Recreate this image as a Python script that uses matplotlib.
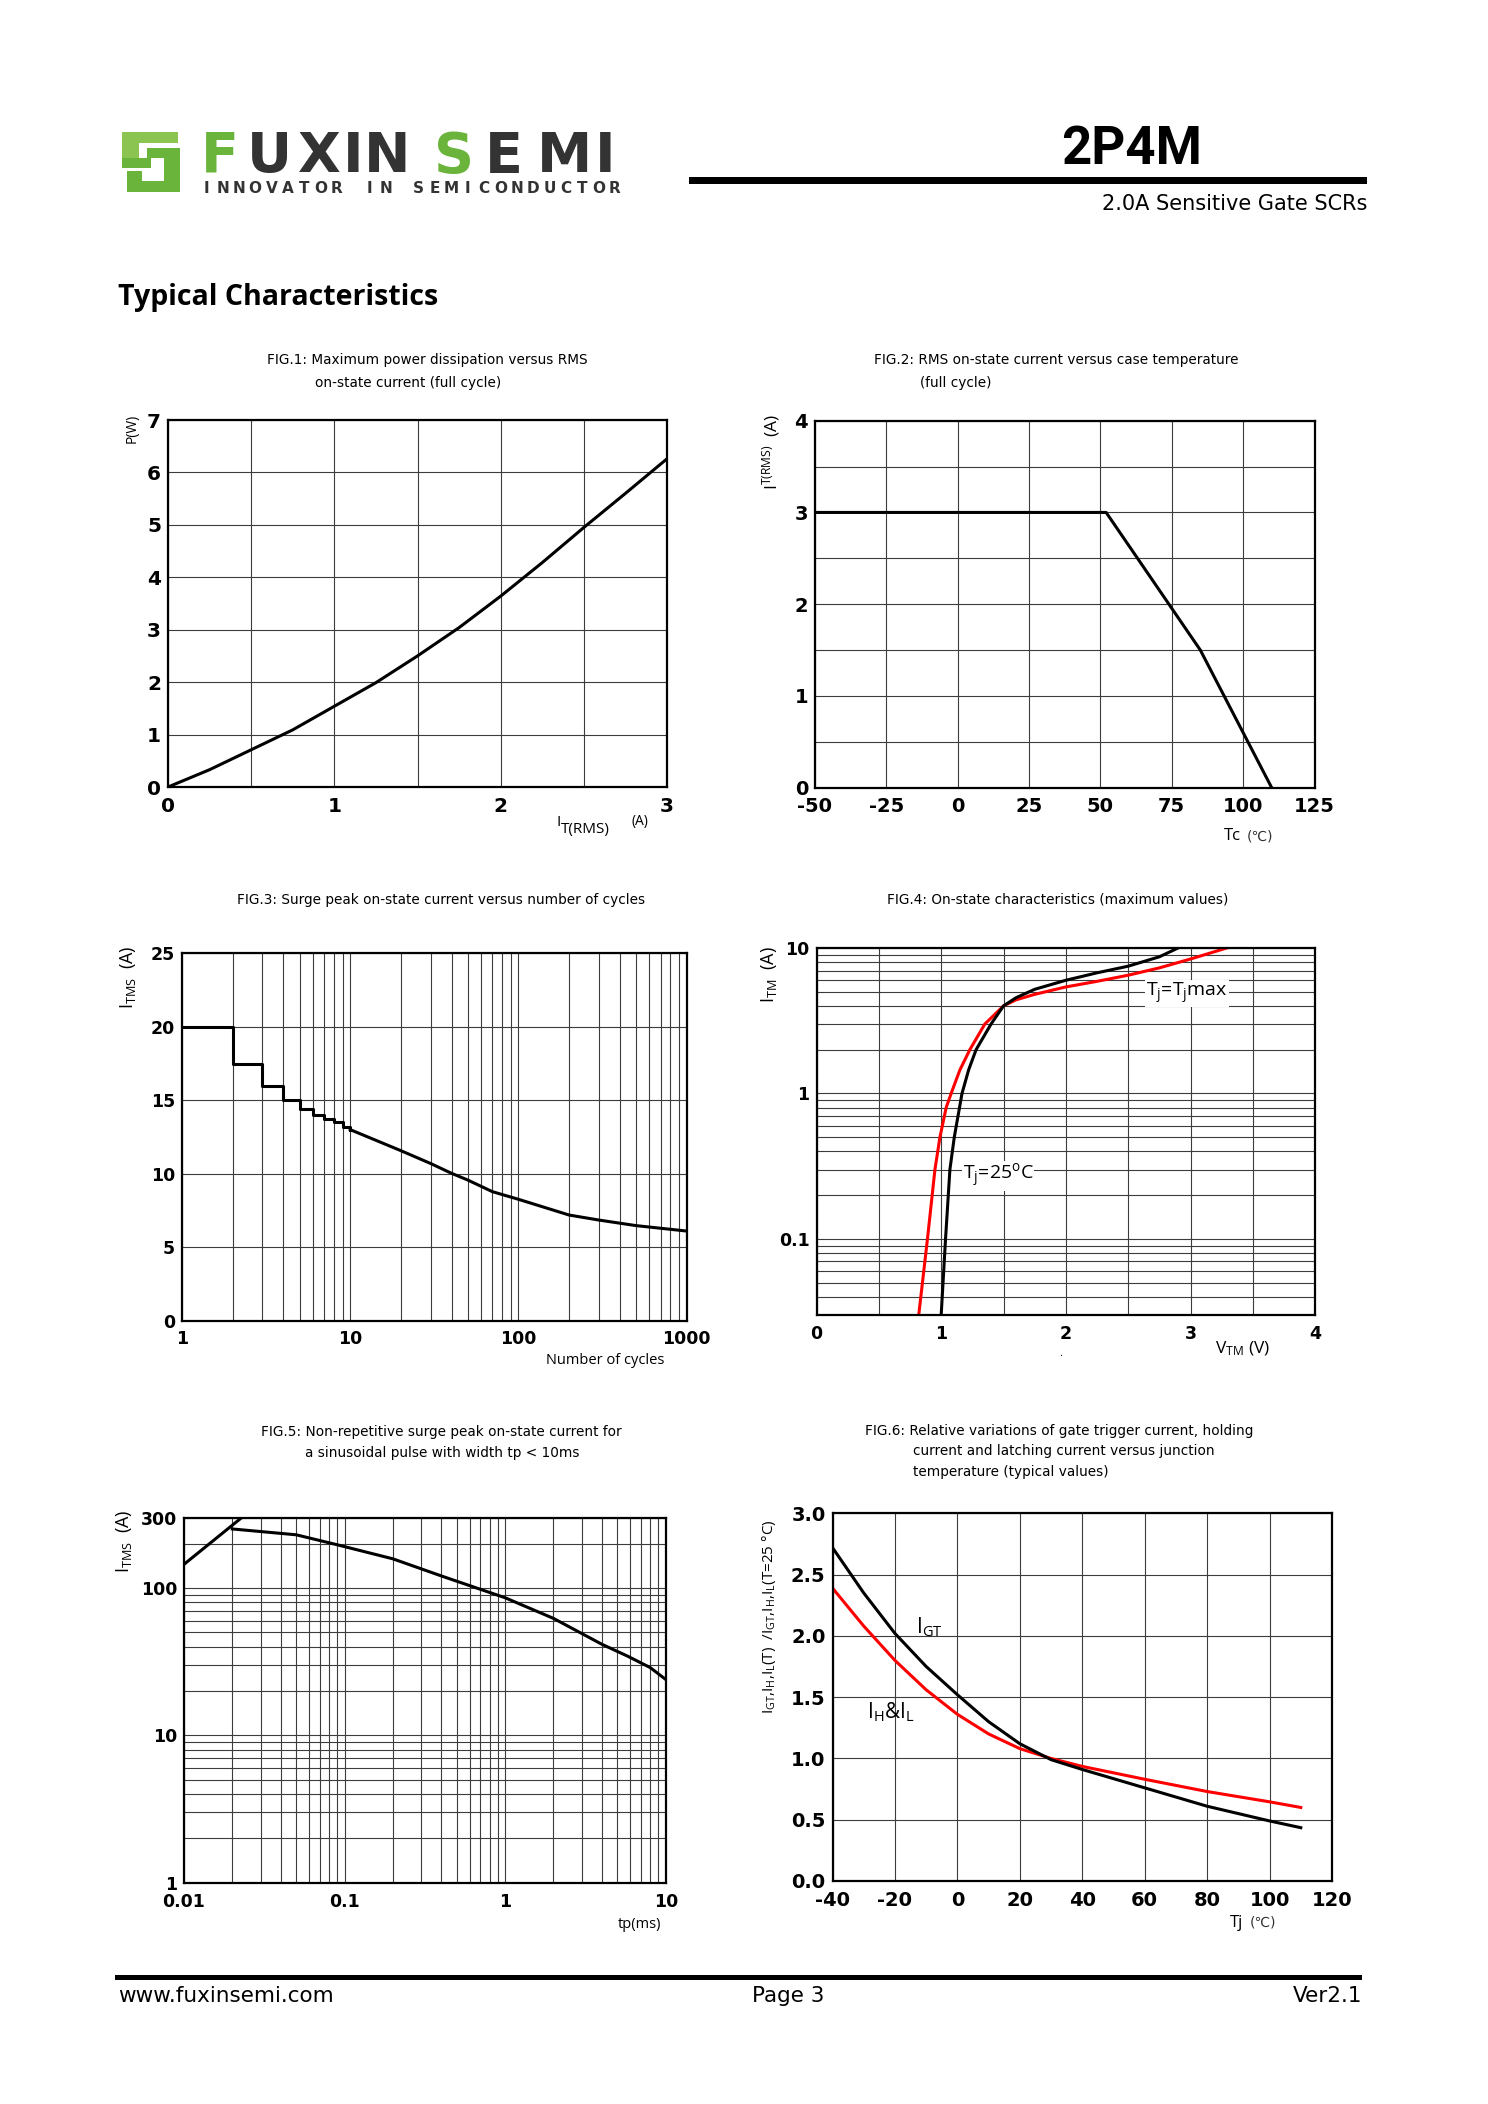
import numpy as np
import matplotlib
matplotlib.use('Agg')
import matplotlib.pyplot as plt
from matplotlib import font_manager as fm
from matplotlib.patches import Rectangle
from matplotlib.ticker import LogLocator, NullFormatter, FixedLocator

# ---------------- data ----------------
# FIG.1  P(W) vs I_T(RMS)
fig1_i = [0, 0.25, 0.5, 0.75, 1.0, 1.25, 1.5, 1.75, 2.0, 2.25, 2.5, 2.75, 3.0]
fig1_p = [0, 0.33, 0.71, 1.09, 1.54, 1.99, 2.50, 3.04, 3.64, 4.28, 4.95, 5.60, 6.26]
fig1_xticks = [0, 1, 2, 3]
fig1_yticks = [0, 1, 2, 3, 4, 5, 6, 7]

# FIG.2  I_T(RMS) vs Tc
fig2_tc = [-50, 52, 85, 110]
fig2_i = [3.0, 3.0, 1.5, 0.0]
fig2_xticks = [-50, -25, 0, 25, 50, 75, 100, 125]
fig2_yticks = [0, 1, 2, 3, 4]

# FIG.3  surge current vs number of cycles
fig3_step_n = [1, 2, 3, 4, 5, 6, 7, 8, 9, 10]
fig3_step_i = [20, 17.5, 16, 15, 14.4, 14.0, 13.7, 13.5, 13.2, 13.0]
fig3_n = [10, 20, 30, 40, 50, 70, 100, 200, 300, 500, 1000]
fig3_i = [13.0, 11.57, 10.7, 10.03, 9.57, 8.78, 8.26, 7.19, 6.85, 6.47, 6.1]
fig3_xticks = [1, 10, 100, 1000]
fig3_yticks = [0, 5, 10, 15, 20, 25]

# FIG.4  on-state characteristics
fig4_v25 = [1.0, 1.035, 1.07, 1.105, 1.167, 1.22, 1.28, 1.40, 1.50, 1.60, 1.75, 2.0, 2.25,
            2.5, 2.75, 2.9]
fig4_i25 = [0.03, 0.1, 0.3, 0.5, 1.0, 1.45, 2.0, 3.0, 4.0, 4.55, 5.2, 6.0, 6.75,
            7.5, 8.7, 10.0]
fig4_vmax = [0.82, 0.89, 0.95, 0.99, 1.04, 1.08, 1.15, 1.23, 1.35, 1.50, 1.60, 1.75, 2.0,
             2.25, 2.5, 2.75, 3.0, 3.29]
fig4_imax = [0.03, 0.1, 0.3, 0.5, 0.8, 1.0, 1.45, 2.0, 3.0, 4.0, 4.4, 4.8, 5.4,
             5.9, 6.5, 7.3, 8.4, 10.0]
fig4_xticks = [0, 1, 2, 3, 4]
fig4_yticks = [0.1, 1, 10]

# FIG.5  non-repetitive surge vs tp
fig5_tp_a = [0.01, 0.0228]
fig5_i_a = [145, 300]
fig5_tp_b = [0.02, 0.05, 0.088, 0.2, 0.4, 1.0, 2.0, 4.0, 5.8, 8.0, 10.0]
fig5_i_b = [252, 230, 198, 158, 121, 86, 62.3, 41.6, 34.5, 28.9, 24.0]
fig5_xticks = [0.01, 0.1, 1, 10]
fig5_yticks = [1, 10, 100, 300]

# FIG.6  relative variations vs Tj
fig6_t = [-40, -30, -20, -10, 0, 10, 20, 30, 40, 60, 80, 100, 110]
fig6_igt = [2.72, 2.35, 2.02, 1.75, 1.52, 1.30, 1.12, 0.99, 0.91, 0.76, 0.61, 0.49, 0.435]
fig6_ihl = [2.39, 2.08, 1.80, 1.56, 1.36, 1.20, 1.08, 1.00, 0.935, 0.83, 0.73, 0.646, 0.60]
fig6_xticks = [-40, -20, 0, 20, 40, 60, 80, 100, 120]
fig6_yticks = [0.0, 0.5, 1.0, 1.5, 2.0, 2.5, 3.0]

# ---------------- fonts ----------------
names = {f.name for f in fm.fontManager.ttflist}


def _w(f):
    w = f.weight
    if isinstance(w, str):
        w = fm.weight_dict.get(w, 400)
    return w


def has_bold(name):
    return any(f.name == name and _w(f) >= 600 for f in fm.fontManager.ttflist)


def pick(cands, need_bold=False):
    for c in cands:
        if c in names and (not need_bold or has_bold(c)):
            return c
    return 'DejaVu Sans'


SANS = pick(['Open Sans', 'Noto Sans', 'Lato', 'DejaVu Sans'])
SANSB = pick(['Open Sans', 'Noto Sans', 'Lato', 'DejaVu Sans'], need_bold=True)
BIGB = pick(['Liberation Sans Narrow', 'Roboto'], need_bold=True)

plt.rcParams['font.family'] = [SANS, 'DejaVu Sans']
plt.rcParams['mathtext.default'] = 'regular'

W, H = 1488, 2104
fig = plt.figure(figsize=(W / 100, H / 100), dpi=100)
fig.patch.set_facecolor('white')

GRID = '#3c3c3c'
GREEN = '#6AB43C'
GREEN_L = '#8CC451'
DARK = '#333333'
DV = ['DejaVu Sans']


def ax_at(x0, x1, y0, y1):
    return fig.add_axes([x0 / W, 1 - y1 / H, (x1 - x0) / W, (y1 - y0) / H])


def ftext(x, y, s, **kw):
    return fig.text(x / W, 1 - y / H, s, **kw)


def frect(x0, y0, x1, y1, color):
    fig.add_artist(Rectangle((x0 / W, 1 - y1 / H), (x1 - x0) / W, (y1 - y0) / H,
                             transform=fig.transFigure, facecolor=color,
                             edgecolor='none'))


def style(ax):
    for sp in ax.spines.values():
        sp.set_linewidth(1.6)
        sp.set_color('black')
    ax.tick_params(which='both', length=0)
    ax.tick_params(axis='x', which='both', pad=7)
    ax.tick_params(axis='y', which='both', pad=5)
    ax.set_axisbelow(True)


def fmt_num(v):
    if v == int(v):
        return str(int(v))
    return str(v)


TB = dict(fontweight='bold', family=DV)
TITLE = dict(fontsize=9.8, family=DV, ha='center', va='center')

# ---------------- header ----------------
for (x0, y0, x1, y1, c) in [(122, 132, 178, 143, GREEN_L), (122, 132, 139, 168, GREEN_L),
                            (122, 158, 151, 168, GREEN), (147, 148, 180, 158, GREEN),
                            (164, 148, 180, 192, GREEN), (127, 181, 180, 192, GREEN),
                            (127, 171, 142, 192, GREEN)]:
    frect(x0, y0, x1, y1, c)
logo_letters = ['F', 'U', 'X', 'I', 'N', 'S', 'E', 'M', 'I']
logo_centers = [220, 269, 319, 353, 387, 454, 504, 564, 605]
logo_colors = [GREEN, DARK, DARK, DARK, DARK, GREEN, DARK, DARK, DARK]
for ch, cx, col in zip(logo_letters, logo_centers, logo_colors):
    ftext(cx, 172, ch, fontsize=40, fontweight='bold', family=DV,
          color=col, ha='center', va='baseline')
tag = 'INNOVATOR IN SEMICONDUCTOR'
for k, ch in enumerate(tag):
    ftext(198 + (k + 0.5) * 425 / len(tag), 193, ch, fontsize=11, fontweight='bold',
          family=DV, color=DARK, ha='center', va='baseline')

big_size = 44 if BIGB == 'Liberation Sans Narrow' else (38 if BIGB == 'Roboto' else 34)
ftext(1132, 164, '2P4M', fontsize=big_size, fontweight='bold', family=[BIGB],
      ha='center', va='baseline')
frect(689, 177, 1367, 184, 'black')
ftext(1367, 204, '2.0A Sensitive Gate SCRs', fontsize=15, family=DV, ha='right', va='center')
ftext(118, 297, 'Typical Characteristics', fontsize=20.5, ha='left', va='center',
      fontweight='bold', family=[SANSB, 'DejaVu Sans'])

# ---------------- FIG.1 ----------------
ax1 = ax_at(168, 667, 420, 787)
style(ax1)
ax1.plot(fig1_i, fig1_p, color='black', lw=2.2, solid_capstyle='butt')
ax1.set_xlim(0, 3)
ax1.set_ylim(0, 7)
ax1.set_xticks(fig1_xticks, [fmt_num(v) for v in fig1_xticks], fontsize=14.5, **TB)
ax1.set_yticks(fig1_yticks, [fmt_num(v) for v in fig1_yticks], fontsize=14.5, **TB)
ax1.xaxis.set_minor_locator(FixedLocator([0.5, 1.5, 2.5]))
ax1.grid(True, which='both', color=GRID, lw=0.8)
ftext(427, 360, 'FIG.1: Maximum power dissipation versus RMS', **TITLE)
ftext(408, 383, 'on-state current (full cycle)', **TITLE)
ftext(132, 428, 'P(W)', fontsize=10, rotation=90, ha='center', va='center')
ftext(556, 822, 'I', fontsize=11, ha='left', va='center')
ftext(561, 830, 'T(RMS)', fontsize=11, ha='left', va='center')
ftext(631, 821, '(A)', fontsize=10, ha='left', va='center')

# ---------------- FIG.2 ----------------
ax2 = ax_at(815, 1314.5, 420.7, 787.7)
style(ax2)
ax2.plot(fig2_tc, fig2_i, color='black', lw=2.2)
ax2.set_xlim(-50, 125)
ax2.set_ylim(0, 4)
ax2.set_xticks(fig2_xticks, [fmt_num(v) for v in fig2_xticks], fontsize=14, **TB)
ax2.set_yticks(fig2_yticks, [fmt_num(v) for v in fig2_yticks], fontsize=14, **TB)
ax2.yaxis.set_minor_locator(FixedLocator([0.5, 1.5, 2.5, 3.5]))
ax2.grid(True, which='both', color=GRID, lw=0.8)
ftext(1056, 360, 'FIG.2: RMS on-state current versus case temperature', **TITLE)
ftext(956, 383, '(full cycle)', **TITLE)
ftext(771, 452, r'I$^{T(RMS)}$  (A)', fontsize=12.5, rotation=90, ha='center', va='center')
ftext(1224, 836, 'Tc', fontsize=12, ha='left', va='center')
ftext(1247, 836, '(\u2103)', fontsize=10, ha='left', va='center', color='#333333', family=DV)

# ---------------- FIG.3 ----------------
ax3 = ax_at(182, 686.7, 953.3, 1320.7)
style(ax3)
ax3.plot(fig3_step_n, fig3_step_i, color='black', lw=2.2, drawstyle='steps-post')
ax3.plot(fig3_n, fig3_i, color='black', lw=2.2)
ax3.set_xscale('log')
ax3.set_xlim(1, 1000)
ax3.set_ylim(0, 25)
ax3.set_xticks(fig3_xticks, [fmt_num(v) for v in fig3_xticks], fontsize=12.5, **TB)
ax3.xaxis.set_minor_locator(LogLocator(base=10, subs=np.arange(2, 10), numticks=20))
ax3.xaxis.set_minor_formatter(NullFormatter())
ax3.set_yticks(fig3_yticks, [fmt_num(v) for v in fig3_yticks], fontsize=12.5, **TB)
ax3.grid(True, which='both', axis='x', color=GRID, lw=0.8)
ax3.grid(True, which='major', axis='y', color=GRID, lw=0.8)
ftext(441, 900, 'FIG.3: Surge peak on-state current versus number of cycles', **TITLE)
ftext(128, 977, r'I$_{TMS}$  (A)', fontsize=13, rotation=90, ha='center', va='center')
ftext(605, 1360, 'Number of cycles', fontsize=10.5, ha='center', va='center')

# ---------------- FIG.4 ----------------
ax4 = ax_at(816.5, 1315.2, 948, 1315)
style(ax4)
ax4.plot(fig4_vmax, fig4_imax, color='#FF0000', lw=2.2)
ax4.plot(fig4_v25, fig4_i25, color='black', lw=2.2)
ax4.set_yscale('log')
ax4.set_xlim(0, 4)
ax4.set_ylim(0.03, 10)
ax4.set_xticks(fig4_xticks, [fmt_num(v) for v in fig4_xticks], fontsize=12.5, **TB)
ax4.xaxis.set_minor_locator(FixedLocator([0.5, 1.5, 2.5, 3.5]))
ax4.set_yticks(fig4_yticks, [fmt_num(v) for v in fig4_yticks], fontsize=12.5, **TB)
ax4.yaxis.set_minor_locator(LogLocator(base=10, subs=np.arange(2, 10), numticks=20))
ax4.yaxis.set_minor_formatter(NullFormatter())
ax4.grid(True, which='both', color=GRID, lw=0.8)
ax4.text(0.743, 0.877, r'T$_{j}$=T$_{j}$max', transform=ax4.transAxes, fontsize=14,
         ha='center', va='center', bbox=dict(facecolor='white', edgecolor='none', pad=0.5))
ax4.text(0.364, 0.379, r'T$_{j}$=25$^{o}$C', transform=ax4.transAxes, fontsize=14,
         ha='center', va='center', bbox=dict(facecolor='white', edgecolor='none', pad=0.5))
ftext(1058, 900, 'FIG.4: On-state characteristics (maximum values)', **TITLE)
ftext(769, 975, r'I$_{TM}$  (A)', fontsize=13, rotation=90, ha='center', va='center')
ftext(1215, 1349, r'V$_{TM}$ (V)', fontsize=12.5, ha='left', va='center')
ftext(1061, 1354, '.', fontsize=8, ha='center', va='center')

# ---------------- FIG.5 ----------------
ax5 = ax_at(184, 665.7, 1517.8, 1882.8)
style(ax5)
ax5.plot(fig5_tp_a, fig5_i_a, color='black', lw=2.2)
ax5.plot(fig5_tp_b, fig5_i_b, color='black', lw=2.2)
ax5.set_xscale('log')
ax5.set_yscale('log')
ax5.set_xlim(0.01, 10)
ax5.set_ylim(1, 300)
ax5.set_xticks(fig5_xticks, [fmt_num(v) for v in fig5_xticks], fontsize=12.5, **TB)
ax5.set_yticks(fig5_yticks, [fmt_num(v) for v in fig5_yticks], fontsize=12.5, **TB)
ax5.xaxis.set_minor_locator(LogLocator(base=10, subs=np.arange(2, 10), numticks=20))
ax5.yaxis.set_minor_locator(LogLocator(base=10, subs=np.arange(2, 10), numticks=20))
ax5.xaxis.set_minor_formatter(NullFormatter())
ax5.yaxis.set_minor_formatter(NullFormatter())
ax5.grid(True, which='both', color=GRID, lw=0.8)
ftext(441, 1432, 'FIG.5: Non-repetitive surge peak on-state current for', **TITLE)
ftext(442, 1453, 'a sinusoidal pulse with width tp < 10ms', **TITLE)
ftext(124, 1541, r'I$_{TMS}$  (A)', fontsize=13, rotation=90, ha='center', va='center')
ftext(639, 1924, 'tp(ms)', fontsize=10.5, ha='center', va='center')

# ---------------- FIG.6 ----------------
ax6 = ax_at(832.5, 1332, 1513.3, 1881)
style(ax6)
ax6.plot(fig6_t, fig6_ihl, color='#FF0000', lw=2.2)
ax6.plot(fig6_t, fig6_igt, color='black', lw=2.2)
ax6.set_xlim(-40, 120)
ax6.set_ylim(0, 3)
ax6.set_xticks(fig6_xticks, [fmt_num(v) for v in fig6_xticks], fontsize=14, **TB)
ax6.set_yticks(fig6_yticks, ['%.1f' % v for v in fig6_yticks], fontsize=14, **TB)
ax6.grid(True, which='major', color=GRID, lw=0.8)
ax6.text(0.193, 0.691, r'I$_{GT}$', transform=ax6.transAxes, fontsize=15,
         ha='center', va='center')
ax6.text(0.117, 0.46, r'I$_{H}$&I$_{L}$', transform=ax6.transAxes, fontsize=15,
         ha='center', va='center')
ftext(1059, 1431, 'FIG.6: Relative variations of gate trigger current, holding', **TITLE)
ftext(1064, 1451, 'current and latching current versus junction', **TITLE)
ftext(1011, 1472, 'temperature (typical values)', **TITLE)
ftext(769, 1617, r'I$_{GT}$,I$_{H}$,I$_{L}$(T)  /I$_{GT}$,I$_{H}$,I$_{L}$(T=25 °C)',
      fontsize=11, rotation=90, ha='center', va='center')
ftext(1230, 1923, 'Tj', fontsize=12, ha='left', va='center')
ftext(1250, 1923, '(\u2103)', fontsize=10, ha='left', va='center', color='#333333', family=DV)

# ---------------- footer ----------------
frect(115, 1975, 1362, 1980, 'black')
ftext(118, 1996, 'www.fuxinsemi.com', fontsize=15.5, family=DV, ha='left', va='center')
ftext(788, 1996, 'Page 3', fontsize=15.5, family=DV, ha='center', va='center')
ftext(1362, 1996, 'Ver2.1', fontsize=15.5, family=DV, ha='right', va='center')

fig.savefig('out.png', dpi=100, facecolor='white')
